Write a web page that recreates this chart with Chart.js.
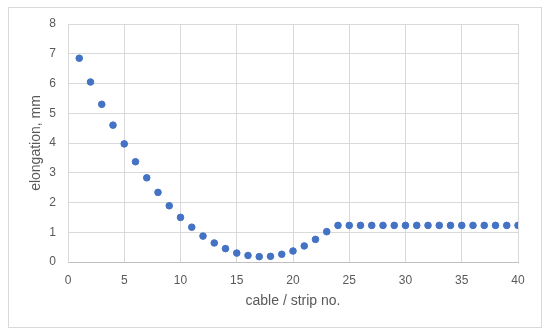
<!DOCTYPE html>
<html lang="en">
<head>
  <meta charset="UTF-8">
  <title>Elongation per cable / strip</title>
  <script src="https://cdn.jsdelivr.net/npm/chart.js"></script>
  <style>
    html, body {
      margin: 0;
      padding: 0;
      background: #fff;
    }
    #box {
      position: relative;
      width: 550px;
      height: 335px;
    }
  </style>
</head>
<body>
<div id="box"><canvas id="grafico"></canvas></div>

<script>
// cable / strip number
const cables = [
  1, 2, 3, 4, 5, 6, 7, 8, 9, 10,
  11, 12, 13, 14, 15, 16, 17, 18, 19, 20,
  21, 22, 23, 24, 25, 26, 27, 28, 29, 30,
  31, 32, 33, 34, 35, 36, 37, 38, 39, 40
];
// elongation, mm
const elongation = [
  6.85, 6.05, 5.30, 4.60, 3.97, 3.37, 2.83, 2.34, 1.89, 1.50,
  1.17, 0.87, 0.64, 0.45, 0.30, 0.22, 0.18, 0.19, 0.26, 0.37,
  0.54, 0.76, 1.02, 1.23, 1.23, 1.23, 1.23, 1.23, 1.23, 1.23,
  1.23, 1.23, 1.23, 1.23, 1.23, 1.23, 1.23, 1.23, 1.23, 1.23
];
const xTitle = "cable / strip no.";
const yTitle = "elongation, mm";

const points = cables.map((c, i) => ({ x: c, y: elongation[i] }));

// outer frame like the spreadsheet chart border
const frame = {
  id: "frame",
  beforeDraw(chart) {
    const c = chart.ctx;
    c.save();
    c.fillStyle = "#fff";
    c.fillRect(0, 0, chart.width, chart.height);
    c.strokeStyle = "#d9d9d9";
    c.lineWidth = 1;
    c.strokeRect(8.5, 7.5, 533, 320);
    c.restore();
  }
};

const tickFont = { family: "'Liberation Sans', Arial, sans-serif", size: 12 };
const titleFont = { family: "'Liberation Sans', Arial, sans-serif", size: 14 };

new Chart(document.getElementById("grafico"), {
  type: "scatter",
  data: {
    datasets: [{
      data: points,
      backgroundColor: "#4472c4",
      borderColor: "#4472c4",
      pointRadius: 3.3,
      pointHoverRadius: 3.3
    }]
  },
  options: {
    responsive: true,
    maintainAspectRatio: false,
    animation: false,
    layout: { padding: { left: 28, top: 24, right: 32, bottom: 25 } },
    plugins: {
      legend: { display: false },
      tooltip: { enabled: false }
    },
    scales: {
      x: {
        min: 0,
        max: 40,
        afterFit(s) { s.height = 48; },
        ticks: { stepSize: 5, color: "#595959", font: tickFont, padding: 11, maxRotation: 0 },
        grid: { color: "#d9d9d9", drawTicks: false },
        border: { color: "#bfbfbf" },
        title: { display: true, text: xTitle, color: "#595959", font: titleFont, padding: 0 }
      },
      y: {
        min: 0,
        max: 8,
        afterFit(s) { s.width = 40; },
        ticks: { stepSize: 1, color: "#595959", font: tickFont, padding: 12 },
        grid: { color: "#d9d9d9", drawTicks: false },
        border: { color: "#d9d9d9" },
        title: { display: true, text: yTitle, color: "#595959", font: titleFont, padding: 0 }
      }
    }
  },
  plugins: [frame]
});
</script>
</body>
</html>
